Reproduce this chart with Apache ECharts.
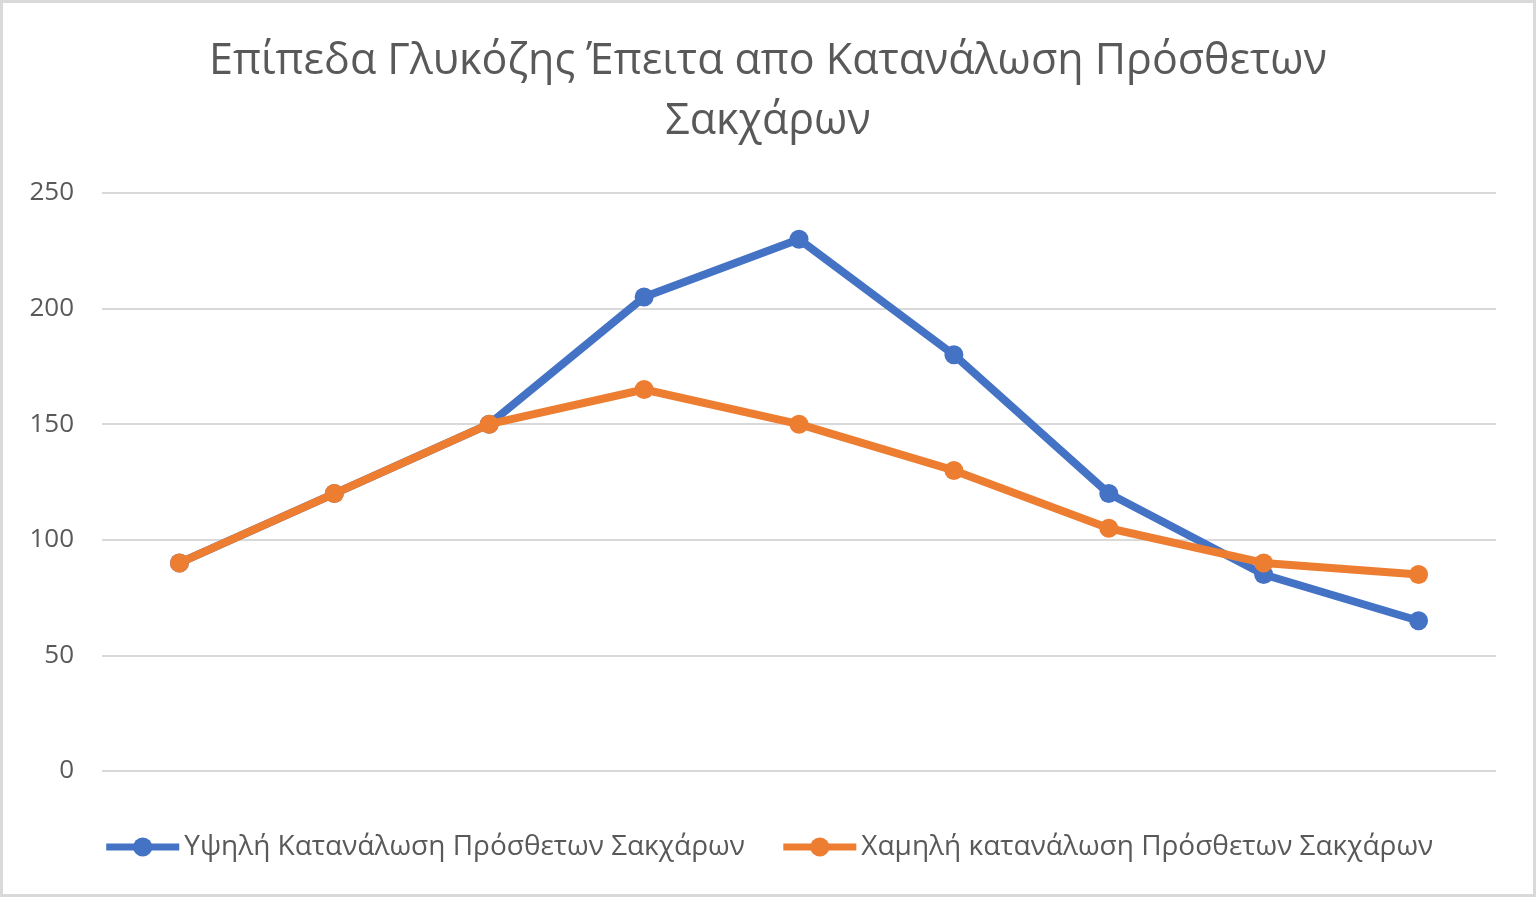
<!DOCTYPE html>
<html>
<head>
<meta charset="utf-8">
<script src="https://cdn.jsdelivr.net/npm/echarts@6/dist/echarts.min.js"></script>
<style>
html, body { margin: 0; padding: 0; background: #fff; }
#root { width: 1536px; height: 897px; box-sizing: border-box; border: 3px solid #d9d9d9; }
</style>
</head>
<body>
<div id="root"></div>
<script>
// 标题与图例
var titleText = 'Επίπεδα Γλυκόζης Έπειτα απο Κατανάλωση Πρόσθετων\nΣακχάρων';
var seriesNames = ['Υψηλή Κατανάλωση Πρόσθετων Σακχάρων', 'Χαμηλή κατανάλωση Πρόσθετων Σακχάρων'];
// 类目 (图中无标签)
var categories = ['1', '2', '3', '4', '5', '6', '7', '8', '9'];
// 数值
var highValues = [90, 120, 150, 205, 230, 180, 120, 85, 65];
var lowValues = [90, 120, 150, 165, 150, 130, 105, 90, 85];

var FONT = 'Open Sans';
var myChart = echarts.init(document.getElementById('root'));

var option = {
    animation: false,
    title: {
        text: titleText,
        left: 'center',
        top: 24,
        textStyle: { fontFamily: FONT, fontSize: 43, fontWeight: 'normal', color: '#595959', lineHeight: 60 }
    },
    legend: {
        bottom: 28,
        left: 'center',
        itemWidth: 73,
        itemHeight: 24,
        itemGap: 35,
        lineStyle: { width: 7 },
        textStyle: { fontFamily: FONT, fontSize: 28, color: '#595959' },
        data: seriesNames
    },
    grid: { left: 99, right: 37, top: 190, bottom: 123 },
    xAxis: {
        type: 'category',
        data: categories,
        boundaryGap: true,
        axisLine: { show: false },
        axisTick: { show: false },
        axisLabel: { show: false }
    },
    yAxis: {
        type: 'value',
        min: 0,
        max: 250,
        interval: 50,
        axisLabel: { fontFamily: FONT, fontSize: 26, color: '#595959', margin: 28 },
        splitLine: { lineStyle: { color: '#d9d9d9', width: 2 } }
    },
    series: [
        {
            name: seriesNames[0],
            type: 'line',
            data: highValues,
            symbol: 'circle',
            symbolSize: 19,
            color: '#4472c4',
            lineStyle: { width: 8 },
            z: 2
        },
        {
            name: seriesNames[1],
            type: 'line',
            data: lowValues,
            symbol: 'circle',
            symbolSize: 19,
            color: '#ed7d31',
            lineStyle: { width: 8 },
            z: 3
        }
    ]
};
myChart.setOption(option);
</script>
</body>
</html>
